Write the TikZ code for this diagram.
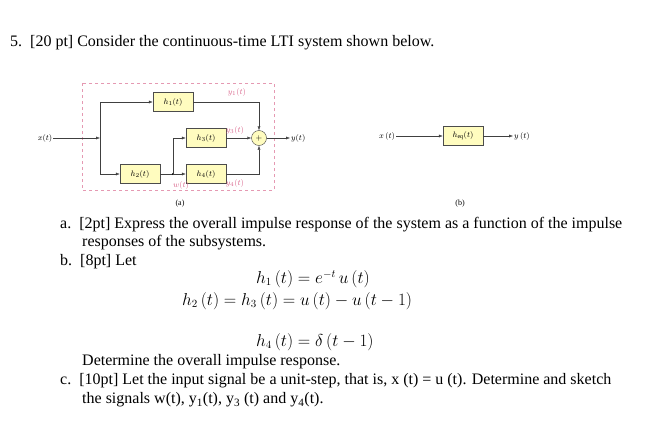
\documentclass[tikz,border=0pt]{standalone}
\usepackage{fontspec}
\setmainfont{Liberation Serif}
\usepackage{amsmath}
\usetikzlibrary{arrows.meta}
\begin{document}
\begin{tikzpicture}[x=1pt,y=-1pt,
  txt/.style={anchor=west,inner sep=0pt,font=\fontsize{16}{18}\selectfont},
  blk/.style={draw=black!70,fill=yellow!25,minimum width=40pt,minimum height=19pt,inner sep=0pt,font=\footnotesize},
  sig/.style={font=\footnotesize,inner sep=1pt},
  lab/.style={font=\footnotesize,text=purple!60,inner sep=1pt},
  arr/.style={-{Latex[length=4pt,width=3pt]},draw=black!75},
  ln/.style={draw=black!75}]
\useasboundingbox (0,0) rectangle (658,428);
\node[txt] (t5) at (10,43) {5.\ \ [20 pt] Consider the continuous-time LTI system shown below.};
% diagram a
\draw[dashed,draw=purple!40] (82,83) rectangle (274,190);
\node[sig] (x) at (45,138) {$x(t)$};
\coordinate (b1) at (100,138);
\coordinate (b1u) at (100,102);
\coordinate (b1d) at (100,174);
\node[blk] (h1) at (173,102) {$h_1(t)$};
\node[blk] (h2) at (140,174) {$h_2(t)$};
\node[blk] (h3) at (206,138) {$h_3(t)$};
\node[blk] (h4) at (206,174) {$h_4(t)$};
\node[draw=black!75,fill=yellow!25,circle,minimum size=15pt,inner sep=0pt,font=\footnotesize] (s) at (259,138) {$+$};
\node[sig,anchor=west] (y) at (290,138) {$y(t)$};
\coordinate (w) at (173,174);
\coordinate (wu) at (173,138);
\draw[arr] (x) -- (b1);
\draw[ln] (b1u) -- (b1d);
\draw[arr] (b1u) -- (h1);
\draw[arr] (b1d) -- (h2);
\draw[ln] (h2) -- (w);
\fill (w) circle (1.2pt);
\draw[arr] (w) -- (h4);
\draw[ln] (w) -- (wu);
\draw[arr] (wu) -- (h3);
\draw[arr] (h1.east) -| (s.north);
\draw[arr] (h3) -- (s);
\draw[arr] (h4.east) -| (s.south);
\draw[arr] (s) -- (y);
\node[lab] (ly1) at (237,92) {$y_1(t)$};
\node[lab] (ly3) at (235,130) {$y_3(t)$};
\node[lab] (ly4) at (235,183) {$y_4(t)$};
\node[lab] (lw) at (181,185) {$w(t)$};
\node[sig] (la) at (180,204) {(a)};
% diagram b
\node[sig] (xb) at (387,136) {$x\,(t)$};
\node[blk] (heq) at (463,136) {$h_{\mathrm{eq}}(t)$};
\node[sig] (yb) at (522,136) {$y\,(t)$};
\draw[arr] (xb) -- (heq);
\draw[arr] (heq) -- (yb);
\node[sig] (lb) at (460,204) {(b)};
% text
\node[txt] (ta) at (60,225) {a.\ \ [2pt] Express the overall impulse response of the system as a function of the impulse};
\node[txt] (ta2) at (82,243) {responses of the subsystems.};
\node[txt] (tb) at (60,262) {b.\ \ [8pt] Let};
\node[txt] (e1) at (256,279) {$h_1\,(t) = e^{-t}\,u\,(t)$};
\node[txt] (e2) at (182,301) {$h_2\,(t) = h_3\,(t) = u\,(t) - u\,(t-1)$};
\node[txt] (e3) at (256,342) {$h_4\,(t) = \delta\,(t-1)$};
\node[txt] (td) at (82,362) {Determine the overall impulse response.};
\node[txt] (tc) at (60,381) {c.\ \ [10pt] Let the input signal be a unit-step, that is, x (t) = u (t). Determine and sketch};
\node[txt] (tc2) at (82,400) {the signals w(t), y\textsubscript{1}(t), y\textsubscript{3} (t) and y\textsubscript{4}(t).};
\end{tikzpicture}
\end{document}
